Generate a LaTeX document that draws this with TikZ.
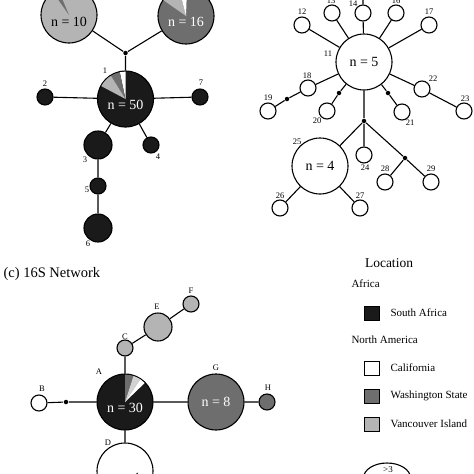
\documentclass[tikz,border=0pt]{standalone}
\usepackage{fontspec}
\setmainfont{Liberation Serif}
\usetikzlibrary{shapes.geometric}
\definecolor{blk}{HTML}{1A1A1A}
\definecolor{dgray}{HTML}{6E6E6E}
\definecolor{lgray}{HTML}{B4B4B4}
\begin{document}
\begin{tikzpicture}[x=1pt,y=-1pt,line width=1.1pt,
  hap/.style={circle,draw=black,inner sep=0pt,line width=1.1pt},
  big/.style={hap,minimum size=56pt},
  med/.style={hap,minimum size=28pt},
  sml/.style={hap,minimum size=16pt},
  jdot/.style={circle,fill=black,inner sep=0pt,minimum size=4.5pt},
  lab/.style={font=\fontsize{8.5}{8.5}\selectfont,inner sep=0pt},
  ntext/.style={font=\fontsize{14}{14}\selectfont,inner sep=0pt},
  legt/.style={font=\fontsize{11}{11}\selectfont,inner sep=0pt,anchor=west},
  legsq/.style={draw=black,line width=1pt,minimum width=15pt,minimum height=14pt,inner sep=0pt},
  edge/.style={draw=black,line width=1.1pt}]
\path[use as bounding box] (0,0) rectangle (474,474);
\clip (0,0) rectangle (474,474);

% ---------- panel (a) ----------
\node[big,fill=lgray] (a10) at (69,15) {};
\fill[dgray] (69,15) -- +(-113:27.4) arc[start angle=-113,end angle=-125,radius=27.4] -- cycle;
\node[ntext] (t10) at (69,22) {n = 10};
\node[big,fill=dgray] (a16) at (186,16) {};
\fill[lgray] (186,16) -- +(-104:27.4) arc[start angle=-104,end angle=-145,radius=27.4] -- cycle;
\fill[white] (186,16) -- +(-88:27.4) arc[start angle=-88,end angle=-104,radius=27.4] -- cycle;
\node[ntext,text=white] (t16) at (186,22) {n = 16};
\node[jdot] (ja) at (125.5,53) {};
\node[big,fill=blk] (a1) at (125.5,99) {};
\fill[white] (125.5,99) -- +(-90:27.4) arc[start angle=-90,end angle=-102,radius=27.4] -- cycle;
\fill[dgray] (125.5,99) -- +(-102:27.4) arc[start angle=-102,end angle=-122,radius=27.4] -- cycle;
\fill[lgray] (125.5,99) -- +(-122:27.4) arc[start angle=-122,end angle=-152,radius=27.4] -- cycle;
\node[ntext,text=white] (t50) at (125.5,105) {n = 50};
\node[sml,fill=blk] (a2) at (45,97) {};
\node[sml,fill=blk] (a7) at (200,97) {};
\node[med,fill=blk] (a3) at (98,145) {};
\node[sml,fill=blk] (a4) at (151,145) {};
\node[sml,fill=blk] (a5) at (98,186) {};
\node[med,fill=blk] (a6) at (98,228) {};
\draw[edge] (a10) -- (ja) (a16) -- (ja) (ja) -- (a1);
\draw[edge] (a1) -- (a2) (a1) -- (a7) (a1) -- (a3) (a1) -- (a4) (a3) -- (a5) (a5) -- (a6);
\node[lab] (l1) at (105,71) {1};
\node[lab] (l2) at (45,84) {2};
\node[lab] (l7) at (201,83) {7};
\node[lab] (l3) at (85,160) {3};
\node[lab] (l4) at (158,157) {4};
\node[lab] (l5) at (87,190) {5};
\node[lab] (l6) at (88,244) {6};

% ---------- panel (b) ----------
\node[big,fill=white] (b11) at (364,62) {};
\node[ntext] (t5) at (364,62) {n = 5};
\node[sml,fill=white] (b12) at (302,25) {};
\node[sml,fill=white] (b13) at (332,13) {};
\node[sml,fill=white] (b14) at (363,13) {};
\coordinate (b15) at (363,-10);
\node[sml,fill=white] (b16) at (396,13) {};
\node[sml,fill=white] (b17) at (429,25) {};
\node[sml,fill=white] (b18) at (308,88) {};
\node[jdot] (jb1) at (287,99) {};
\node[sml,fill=white] (b19) at (268,111) {};
\node[jdot] (jb2) at (339,93) {};
\node[sml,fill=white] (b20) at (327,111) {};
\node[jdot] (jb3) at (388,93) {};
\node[sml,fill=white] (b21) at (402,112) {};
\node[sml,fill=white] (b22) at (422,89) {};
\node[sml,fill=white] (b23) at (464,111) {};
\node[jdot] (jb4) at (364,121) {};
\node[sml,fill=white] (b24) at (364,155) {};
\node[big,fill=white] (b25) at (320,166) {};
\node[ntext] (t4b) at (320,166) {n = 4};
\node[jdot] (jb5) at (405,158) {};
\node[sml,fill=white] (b28) at (385,182) {};
\node[sml,fill=white] (b29) at (431,182) {};
\node[sml,fill=white] (b26) at (280,208) {};
\node[sml,fill=white] (b27) at (360,208) {};
\draw[edge] (b11) -- (b12) (b11) -- (b13) (b11) -- (b14) (b14) -- (b15) (b11) -- (b16) (b11) -- (b17);
\draw[edge] (b11) -- (b18) (b18) -- (jb1) (jb1) -- (b19) (b11) -- (jb2) (jb2) -- (b20) (b11) -- (jb3) (jb3) -- (b21);
\draw[edge] (b11) -- (b22) (b22) -- (b23) (b11) -- (jb4) (jb4) -- (b25) (jb4) -- (b24) (jb4) -- (jb5) (jb5) -- (b28) (jb5) -- (b29);
\draw[edge] (b25) -- (b26) (b25) -- (b27);
\node[lab] (l11) at (328,54) {11};
\node[lab] (l12) at (302,12) {12};
\node[lab] (l13) at (331,1) {13};
\node[lab] (l14) at (353,4) {14};
\node[lab] (l16) at (396,1) {16};
\node[lab] (l17) at (429,12) {17};
\node[lab] (l18) at (307,76) {18};
\node[lab] (l19) at (268,98) {19};
\node[lab] (l20) at (317,121) {20};
\node[lab] (l21) at (410,123) {21};
\node[lab] (l22) at (433,79) {22};
\node[lab] (l23) at (465,99) {23};
\node[lab] (l24) at (365,168) {24};
\node[lab] (l25) at (297,142) {25};
\node[lab] (l26) at (280,196) {26};
\node[lab] (l27) at (360,196) {27};
\node[lab] (l28) at (385,169) {28};
\node[lab] (l29) at (431,169) {29};

% ---------- panel (c) ----------
\node[font=\fontsize{14.5}{14.5}\selectfont,inner sep=0pt,anchor=west] (title) at (3,274) {(c) 16S Network};
\node[big,fill=blk] (cA) at (125,402) {};
\fill[dgray] (125,402) -- +(-90:27.4) arc[start angle=-90,end angle=-72,radius=27.4] -- cycle;
\fill[lgray!60] (125,402) -- +(-72:27.4) arc[start angle=-72,end angle=-56,radius=27.4] -- cycle;
\fill[white] (125,402) -- +(-56:27.4) arc[start angle=-56,end angle=-44,radius=27.4] -- cycle;
\node[ntext,text=white] (t30) at (125,408) {n = 30};
\node[sml,fill=white] (cB) at (39,403) {};
\node[jdot] (jc) at (66,402) {};
\node[sml,fill=lgray] (cC) at (125,348) {};
\node[med,fill=lgray] (cE) at (158,327) {};
\node[sml,fill=lgray] (cF) at (191,304) {};
\node[big,fill=dgray] (cG) at (216,402) {};
\node[ntext,text=white] (t8) at (216,402) {n = 8};
\node[sml,fill=dgray] (cH) at (267,402) {};
\node[big,fill=white] (cD) at (125,471) {};
\node[ntext] (t4c) at (125,478) {n = 4};
\draw[edge] (cA) -- (jc) (jc) -- (cB) (cA) -- (cC) (cC) -- (cE) (cE) -- (cF) (cA) -- (cG) (cG) -- (cH) (cA) -- (cD);
\node[lab] (lA) at (99,372) {A};
\node[lab] (lB) at (42,389) {B};
\node[lab] (lC) at (125,337) {C};
\node[lab] (lD) at (108,443) {D};
\node[lab] (lE) at (157,307) {E};
\node[lab] (lF) at (191,291) {F};
\node[lab] (lG) at (216,368) {G};
\node[lab] (lH) at (268,388) {H};

% ---------- legend ----------
\node[font=\fontsize{13.5}{13.5}\selectfont,inner sep=0pt] (loc) at (389,263) {Location};
\node[legt] (afr) at (351,284) {Africa};
\node[legsq,fill=blk] (sqSA) at (372,313) {};
\node[legt] (tSA) at (390,313) {South Africa};
\node[legt] (nam) at (351,340) {North America};
\node[legsq,fill=white] (sqCA) at (372,368) {};
\node[legt] (tCA) at (390,368) {California};
\node[legsq,fill=dgray] (sqWA) at (372,396) {};
\node[legt] (tWA) at (390,396) {Washington State};
\node[legsq,fill=lgray] (sqVI) at (372,424) {};
\node[legt] (tVI) at (390,424) {Vancouver Island};
\node[ellipse,draw=black,line width=1.1pt,minimum width=47pt,minimum height=30pt,inner sep=0pt] (sz) at (387,478) {};
\node[font=\fontsize{9}{9}\selectfont,inner sep=0pt] (szt) at (388,470) {>3};
\end{tikzpicture}
\end{document}
